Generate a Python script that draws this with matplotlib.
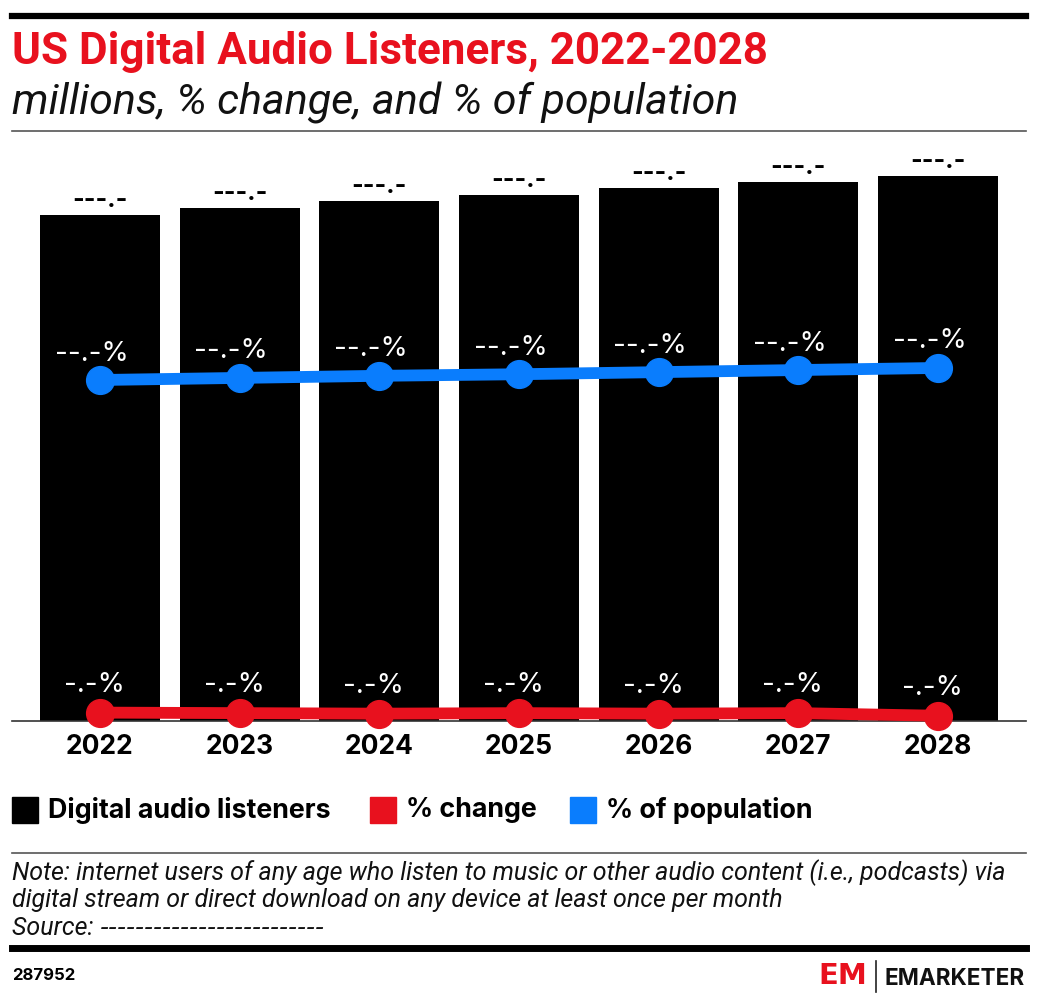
import matplotlib.pyplot as plt
from matplotlib.patches import Rectangle
from matplotlib.lines import Line2D

years = ["2022", "2023", "2024", "2025", "2026", "2027", "2028"]
listeners = [218.9, 222.0, 225.0, 227.6, 230.6, 233.2, 235.8]
pct_change = [1.6, 1.5, 1.4, 1.5, 1.4, 1.5, 1.0]
pct_population = [65.0, 65.4, 65.8, 66.1, 66.5, 66.9, 67.3]
listener_labels = ["---.-"] * 7
change_labels = ["-.-%"] * 7
population_labels = ["--.-%"] * 7

legend_names = ["Digital audio listeners", "% change", "% of population"]

BLACK = "#000000"
RED = "#e8111e"
BLUE = "#0a7dfd"

W, H = 1038, 1007
plt.rcParams["font.family"] = ["Inter", "DejaVu Sans"]

fig = plt.figure(figsize=(W / 100, H / 100), dpi=100)
renderer = fig.canvas.get_renderer()


def fx(px):
    return px / W


def fy(py):
    return 1 - py / H


def hrule(y, lw, color="#000000"):
    fig.add_artist(Line2D([fx(12), fx(1026)], [fy(y), fy(y)], lw=lw, color=color,
                          transform=fig.transFigure))


def fit_text(x, y, s, width_px, size, **kw):
    # shrink/grow the font so the line spans the same width as the reference
    t = fig.text(fx(x), fy(y), s, fontsize=size, **kw)
    w = t.get_window_extent(renderer).width
    t.set_fontsize(size * width_px / w)
    return t


# header
hrule(16, 4.5)
fit_text(12, 64, "US Digital Audio Listeners, 2022-2028", 756, 28,
         color=RED, weight="bold", va="baseline", family=["Liberation Sans Narrow", "Roboto", "DejaVu Sans"])
fit_text(12, 115, "millions, % change, and % of population", 728, 26,
         color="#111111", style="italic", va="baseline", family=["Roboto", "DejaVu Sans"])
hrule(131, 1.2, "#555555")

# main axes
ax = fig.add_axes([fx(12), fy(721), fx(1026) - fx(12), (721 - 140) / H])
x = list(range(len(years)))
ax.set_xlim(-0.63, 6.63)
ax.set_ylim(0, 251.4)
ax.bar(x, listeners, width=0.86, color=BLACK, zorder=2)
for xi, v, lab in zip(x, listeners, listener_labels):
    ax.annotate(lab, (xi, v), xytext=(0, 6), textcoords="offset points",
                ha="center", va="baseline", fontsize=18, weight="bold", color=BLACK)

for s in ["top", "left", "right"]:
    ax.spines[s].set_visible(False)
ax.spines["bottom"].set_color("#333333")
ax.spines["bottom"].set_linewidth(1.2)
ax.set_yticks([])
ax.set_xticks(x, years)
ax.tick_params(axis="x", length=0, pad=9, labelsize=19)
for t in ax.get_xticklabels():
    t.set_fontweight("bold")

# percentage lines share one right-hand scale
ax2 = ax.twinx()
ax2.set_ylim(0, 110.75)
ax2.set_yticks([])
for s in ax2.spines.values():
    s.set_visible(False)
ax2.plot(x, pct_population, color=BLUE, lw=8.5, marker="o", ms=20, clip_on=False, zorder=3)
ax2.plot(x, pct_change, color=RED, lw=8.5, marker="o", ms=20, clip_on=False, zorder=3)
for xi, v, lab in zip(x, pct_population, population_labels):
    ax2.annotate(lab, (xi, v), xytext=(-6, 14), textcoords="offset points",
                 ha="center", va="baseline", fontsize=20, color="white")
for xi, v, lab in zip(x, pct_change, change_labels):
    ax2.annotate(lab, (xi, v), xytext=(-4, 15), textcoords="offset points",
                 ha="center", va="baseline", fontsize=20, color="white")

# legend
legend_x = [12, 370, 570]
for lx, name, col in zip(legend_x, legend_names, [BLACK, RED, BLUE]):
    fig.add_artist(Rectangle((fx(lx), fy(823)), 26 / W, 26 / H, color=col,
                             transform=fig.transFigure))
    fig.text(fx(lx + 36), fy(810), name, fontsize=19.3, weight="bold", va="center")

# footer
hrule(853, 1.2, "#555555")
note_kw = dict(style="italic", color="#111111", va="baseline")
t1 = fit_text(12, 880, "Note: internet users of any age who listen to music or other audio content "
              "(i.e., podcasts) via", 998, 16, family=["Roboto", "DejaVu Sans"], **note_kw)
note_size = t1.get_fontsize()
fig.text(fx(12), fy(907), "digital stream or direct download on any device at least once per month",
         fontsize=note_size, family=["Roboto", "DejaVu Sans"], **note_kw)
src = fig.text(fx(12), fy(935), "Source: ", fontsize=note_size,
               family=["Roboto", "DejaVu Sans"], **note_kw)
# DejaVu has wider hyphens, closer to the reference dash run
src_end = src.get_window_extent(renderer).x1
fig.text(src_end / W, fy(935), "-------------------------", fontsize=note_size,
         family=["DejaVu Sans"], **note_kw)
hrule(948, 5)

fig.text(fx(12), fy(975), "287952", fontsize=12, weight="bold", va="center")
fig.text(fx(818), fy(976), "EM", fontsize=21, weight="bold", color=RED, va="center",
         family=["Liberation Sans Narrow", "DejaVu Sans"])
fig.add_artist(Line2D([fx(876), fx(876)], [fy(961), fy(992)], lw=1.2, color="#222222",
                      transform=fig.transFigure))
fit_text(885, 985, "EMARKETER", 140, 15, weight="bold", color="#111111", va="baseline")

fig.savefig("out.png", dpi=100)
